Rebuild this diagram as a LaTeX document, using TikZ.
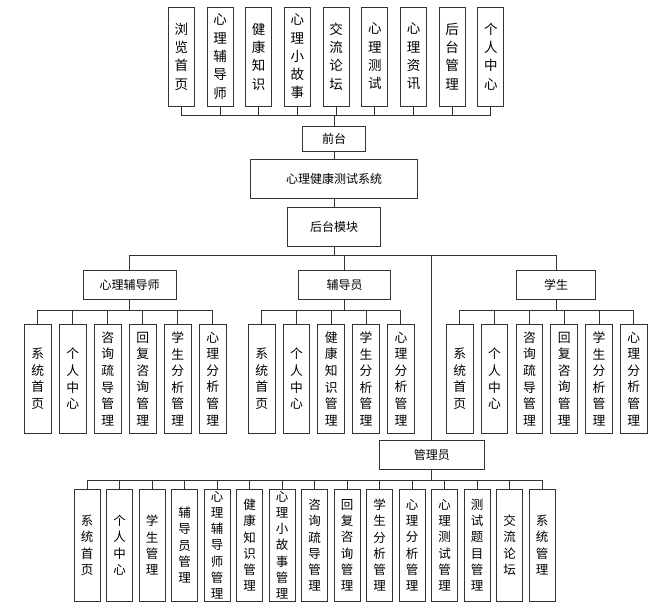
\documentclass[tikz,border=0pt]{standalone}
\usepackage{fontspec}
\setmainfont{Noto Sans CJK SC}
\begin{document}
\begin{tikzpicture}[x=1pt,y=-1pt,
  box/.style={draw=black!80, line width=1pt, inner sep=0pt, align=center, fill=white},
  topbox/.style={box, minimum width=26pt, minimum height=99pt, font=\fontsize{13.5}{18.3}\selectfont},
  hbox/.style={box, font=\fontsize{12}{14}\selectfont},
  kidbox/.style={box, minimum width=26.7pt, minimum height=109pt, font=\fontsize{12.8}{16.6}\selectfont},
  admbox/.style={box, minimum width=25.7pt, minimum height=111.7pt, font=\fontsize{12.5}{16.3}\selectfont},
  conn/.style={draw=black!80, line width=0.9pt}
]
\useasboundingbox (0,0) rectangle (672,606);

% top row
\foreach \lab [count=\i from 0] in {{浏\\览\\首\\页},{心\\理\\辅\\导\\师},{健\\康\\知\\识},{心\\理\\小\\故\\事},{交\\流\\论\\坛},{心\\理\\测\\试},{心\\理\\资\\讯},{后\\台\\管\\理},{个\\人\\中\\心}}
  {\node[topbox] (t\i) at ({181.3+38.7*\i},56.5) {\lab};}

\node[hbox, minimum width=62.3pt, minimum height=25pt] (qt) at (334,138.5) {前台};
\node[hbox, minimum width=166.6pt, minimum height=39pt] (sys) at (334,178.8) {心理健康测试系统};
\node[hbox, minimum width=92.6pt, minimum height=38.7pt] (ht) at (334,226.7) {后台模块};

\node[hbox, minimum width=92.7pt, minimum height=29.3pt] (r1) at (129.7,285.3) {心理辅导师};
\node[hbox, minimum width=92.4pt, minimum height=29.3pt] (r2) at (344.5,285.3) {辅导员};
\node[hbox, minimum width=79.7pt, minimum height=29.3pt] (r3) at (556,285.3) {学生};
\node[hbox, minimum width=105pt, minimum height=29.3pt] (adm) at (431.8,455.3) {管理员};

\coordinate (topbus) at (0,115.7);
\coordinate (mainbus) at (0,255.7);
\coordinate (rbus) at (0,310);
\coordinate (abus) at (0,480);

% children
\foreach \lab [count=\i from 0] in {{系\\统\\首\\页},{个\\人\\中\\心},{咨\\询\\疏\\导\\管\\理},{回\\复\\咨\\询\\管\\理},{学\\生\\分\\析\\管\\理},{心\\理\\分\\析\\管\\理}}
  {\node[kidbox] (a\i) at ({37.7+35*\i},378.8) {\lab};
   \draw[conn] (a\i.north) -- (a\i.north |- rbus) -- (r1.south |- rbus);}
\foreach \lab [count=\i from 0] in {{系\\统\\首\\页},{个\\人\\中\\心},{健\\康\\知\\识\\管\\理},{学\\生\\分\\析\\管\\理},{心\\理\\分\\析\\管\\理}}
  {\node[kidbox] (b\i) at ({261.7+34.8*\i},378.8) {\lab};
   \draw[conn] (b\i.north) -- (b\i.north |- rbus) -- (r2.south |- rbus);}
\foreach \lab [count=\i from 0] in {{系\\统\\首\\页},{个\\人\\中\\心},{咨\\询\\疏\\导\\管\\理},{回\\复\\咨\\询\\管\\理},{学\\生\\分\\析\\管\\理},{心\\理\\分\\析\\管\\理}}
  {\node[kidbox] (c\i) at ({459.8+34.8*\i},378.8) {\lab};
   \draw[conn] (c\i.north) -- (c\i.north |- rbus) -- (r3.south |- rbus);}
\foreach \lab [count=\i from 0] in {{系\\统\\首\\页},{个\\人\\中\\心},{学\\生\\管\\理},{辅\\导\\员\\管\\理},{心\\理\\辅\\导\\师\\管\\理},{健\\康\\知\\识\\管\\理},{心\\理\\小\\故\\事\\管\\理},{咨\\询\\疏\\导\\管\\理},{回\\复\\咨\\询\\管\\理},{学\\生\\分\\析\\管\\理},{心\\理\\分\\析\\管\\理},{心\\理\\测\\试\\管\\理},{测\\试\\题\\目\\管\\理},{交\\流\\论\\坛},{系\\统\\管\\理}}
  {\node[admbox] (d\i) at ({87.2+32.5*\i},545.2) {\lab};
   \draw[conn] (d\i.north) -- (d\i.north |- abus) -- (adm.south |- abus);}

% top connectors
\foreach \i in {0,...,8}
  {\draw[conn] (t\i.south) -- (t\i.south |- topbus) -- (qt.north |- topbus);}
\draw[conn] (qt.north |- topbus) -- (qt.north);
\draw[conn] (qt.south) -- (sys.north);
\draw[conn] (sys.south) -- (ht.north);

% main bus
\draw[conn] (ht.south) -- (ht.south |- mainbus);
\foreach \r in {r1,r2,r3}
  {\draw[conn] (\r.north) -- (\r.north |- mainbus) -- (ht.south |- mainbus);}
\draw[conn] (adm.north) -- (adm.north |- mainbus);
\foreach \r in {r1,r2,r3}
  {\draw[conn] (\r.south) -- (\r.south |- rbus);}
\draw[conn] (adm.south) -- (adm.south |- abus);
\end{tikzpicture}
\end{document}
